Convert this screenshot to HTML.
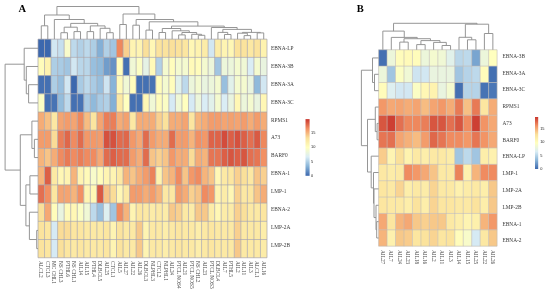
<!DOCTYPE html>
<html><head><meta charset="utf-8"><style>html,body{margin:0;padding:0;background:#fff;width:550px;height:294px;overflow:hidden}svg{display:block}</style></head>
<body><svg width="550" height="294" viewBox="0 0 550 294"><defs><linearGradient id="g" x1="0" y1="0" x2="0" y2="1"><stop offset="0.000" stop-color="#c9362e"/><stop offset="0.167" stop-color="#f29063"/><stop offset="0.333" stop-color="#fae09a"/><stop offset="0.500" stop-color="#ffffbf"/><stop offset="0.667" stop-color="#daedf5"/><stop offset="0.833" stop-color="#88b4d8"/><stop offset="1.000" stop-color="#3c68ae"/></linearGradient></defs><rect width="550" height="294" fill="#fff"/><rect x="38.00" y="39.15" width="6.54" height="18.22" fill="#3c68ae"/><rect x="44.54" y="39.15" width="6.54" height="18.22" fill="#3c68ae"/><rect x="51.09" y="39.15" width="6.54" height="18.22" fill="#d2e7f2"/><rect x="57.63" y="39.15" width="6.54" height="18.22" fill="#c6dfee"/><rect x="64.17" y="39.15" width="6.54" height="18.22" fill="#f8fbca"/><rect x="70.71" y="39.15" width="6.54" height="18.22" fill="#bdd9eb"/><rect x="77.26" y="39.15" width="6.54" height="18.22" fill="#b1d0e6"/><rect x="83.80" y="39.15" width="6.54" height="18.22" fill="#bdd9eb"/><rect x="90.34" y="39.15" width="6.54" height="18.22" fill="#adcee5"/><rect x="96.89" y="39.15" width="6.54" height="18.22" fill="#84b0d6"/><rect x="103.43" y="39.15" width="6.54" height="18.22" fill="#b1d0e6"/><rect x="109.97" y="39.15" width="6.54" height="18.22" fill="#a1c5e1"/><rect x="116.51" y="39.15" width="6.54" height="18.22" fill="#ee885d"/><rect x="123.06" y="39.15" width="6.54" height="18.22" fill="#f9d08f"/><rect x="129.60" y="39.15" width="6.54" height="18.22" fill="#fef4b2"/><rect x="136.14" y="39.15" width="6.54" height="18.22" fill="#fef4b2"/><rect x="142.69" y="39.15" width="6.54" height="18.22" fill="#fae09a"/><rect x="149.23" y="39.15" width="6.54" height="18.22" fill="#fff7b5"/><rect x="155.77" y="39.15" width="6.54" height="18.22" fill="#fbe39d"/><rect x="162.31" y="39.15" width="6.54" height="18.22" fill="#fbe39d"/><rect x="168.86" y="39.15" width="6.54" height="18.22" fill="#fae09a"/><rect x="175.40" y="39.15" width="6.54" height="18.22" fill="#fbe29b"/><rect x="181.94" y="39.15" width="6.54" height="18.22" fill="#fce6a0"/><rect x="188.49" y="39.15" width="6.54" height="18.22" fill="#fff7b5"/><rect x="195.03" y="39.15" width="6.54" height="18.22" fill="#fef3af"/><rect x="201.57" y="39.15" width="6.54" height="18.22" fill="#fceca8"/><rect x="208.11" y="39.15" width="6.54" height="18.22" fill="#d2e7f2"/><rect x="214.66" y="39.15" width="6.54" height="18.22" fill="#fceca8"/><rect x="221.20" y="39.15" width="6.54" height="18.22" fill="#fef4b2"/><rect x="227.74" y="39.15" width="6.54" height="18.22" fill="#fff7b5"/><rect x="234.29" y="39.15" width="6.54" height="18.22" fill="#fbe29b"/><rect x="240.83" y="39.15" width="6.54" height="18.22" fill="#fbe39d"/><rect x="247.37" y="39.15" width="6.54" height="18.22" fill="#fce8a3"/><rect x="253.91" y="39.15" width="6.54" height="18.22" fill="#fbe39d"/><rect x="260.46" y="39.15" width="6.54" height="18.22" fill="#fef3af"/><rect x="38.00" y="57.37" width="6.54" height="18.22" fill="#fffcbb"/><rect x="44.54" y="57.37" width="6.54" height="18.22" fill="#fef3af"/><rect x="51.09" y="57.37" width="6.54" height="18.22" fill="#adcee5"/><rect x="57.63" y="57.37" width="6.54" height="18.22" fill="#a9cbe4"/><rect x="64.17" y="57.37" width="6.54" height="18.22" fill="#a1c5e1"/><rect x="70.71" y="57.37" width="6.54" height="18.22" fill="#d2e7f2"/><rect x="77.26" y="57.37" width="6.54" height="18.22" fill="#b9d6e9"/><rect x="83.80" y="57.37" width="6.54" height="18.22" fill="#b9d6e9"/><rect x="90.34" y="57.37" width="6.54" height="18.22" fill="#98bfde"/><rect x="96.89" y="57.37" width="6.54" height="18.22" fill="#90badb"/><rect x="103.43" y="57.37" width="6.54" height="18.22" fill="#719dcb"/><rect x="109.97" y="57.37" width="6.54" height="18.22" fill="#6692c5"/><rect x="116.51" y="57.37" width="6.54" height="18.22" fill="#fffdbd"/><rect x="123.06" y="57.37" width="6.54" height="18.22" fill="#4470b2"/><rect x="129.60" y="57.37" width="6.54" height="18.22" fill="#f0f8d5"/><rect x="136.14" y="57.37" width="6.54" height="18.22" fill="#fbfdc4"/><rect x="142.69" y="57.37" width="6.54" height="18.22" fill="#e5f2e5"/><rect x="149.23" y="57.37" width="6.54" height="18.22" fill="#fffab9"/><rect x="155.77" y="57.37" width="6.54" height="18.22" fill="#b1d0e6"/><rect x="162.31" y="57.37" width="6.54" height="18.22" fill="#f4facf"/><rect x="168.86" y="57.37" width="6.54" height="18.22" fill="#fffdbd"/><rect x="175.40" y="57.37" width="6.54" height="18.22" fill="#f4facf"/><rect x="181.94" y="57.37" width="6.54" height="18.22" fill="#f4facf"/><rect x="188.49" y="57.37" width="6.54" height="18.22" fill="#fffab9"/><rect x="195.03" y="57.37" width="6.54" height="18.22" fill="#fffcbb"/><rect x="201.57" y="57.37" width="6.54" height="18.22" fill="#f4facf"/><rect x="208.11" y="57.37" width="6.54" height="18.22" fill="#ecf6da"/><rect x="214.66" y="57.37" width="6.54" height="18.22" fill="#a1c5e1"/><rect x="221.20" y="57.37" width="6.54" height="18.22" fill="#ecf6da"/><rect x="227.74" y="57.37" width="6.54" height="18.22" fill="#ecf6da"/><rect x="234.29" y="57.37" width="6.54" height="18.22" fill="#f4facf"/><rect x="240.83" y="57.37" width="6.54" height="18.22" fill="#f0f8d5"/><rect x="247.37" y="57.37" width="6.54" height="18.22" fill="#daedf5"/><rect x="253.91" y="57.37" width="6.54" height="18.22" fill="#f4facf"/><rect x="260.46" y="57.37" width="6.54" height="18.22" fill="#e9f4df"/><rect x="38.00" y="75.58" width="6.54" height="18.22" fill="#4470b2"/><rect x="44.54" y="75.58" width="6.54" height="18.22" fill="#4470b2"/><rect x="51.09" y="75.58" width="6.54" height="18.22" fill="#adcee5"/><rect x="57.63" y="75.58" width="6.54" height="18.22" fill="#98bfde"/><rect x="64.17" y="75.58" width="6.54" height="18.22" fill="#d2e7f2"/><rect x="70.71" y="75.58" width="6.54" height="18.22" fill="#3c68ae"/><rect x="77.26" y="75.58" width="6.54" height="18.22" fill="#a9cbe4"/><rect x="83.80" y="75.58" width="6.54" height="18.22" fill="#bdd9eb"/><rect x="90.34" y="75.58" width="6.54" height="18.22" fill="#a9cbe4"/><rect x="96.89" y="75.58" width="6.54" height="18.22" fill="#98bfde"/><rect x="103.43" y="75.58" width="6.54" height="18.22" fill="#cee4f1"/><rect x="109.97" y="75.58" width="6.54" height="18.22" fill="#88b4d8"/><rect x="116.51" y="75.58" width="6.54" height="18.22" fill="#fffab9"/><rect x="123.06" y="75.58" width="6.54" height="18.22" fill="#f0f8d5"/><rect x="129.60" y="75.58" width="6.54" height="18.22" fill="#fffdbd"/><rect x="136.14" y="75.58" width="6.54" height="18.22" fill="#4470b2"/><rect x="142.69" y="75.58" width="6.54" height="18.22" fill="#4470b2"/><rect x="149.23" y="75.58" width="6.54" height="18.22" fill="#4773b4"/><rect x="155.77" y="75.58" width="6.54" height="18.22" fill="#fffcbb"/><rect x="162.31" y="75.58" width="6.54" height="18.22" fill="#f4facf"/><rect x="168.86" y="75.58" width="6.54" height="18.22" fill="#fffdbd"/><rect x="175.40" y="75.58" width="6.54" height="18.22" fill="#e1f1ea"/><rect x="181.94" y="75.58" width="6.54" height="18.22" fill="#bdd9eb"/><rect x="188.49" y="75.58" width="6.54" height="18.22" fill="#ecf6da"/><rect x="195.03" y="75.58" width="6.54" height="18.22" fill="#f4facf"/><rect x="201.57" y="75.58" width="6.54" height="18.22" fill="#e9f4df"/><rect x="208.11" y="75.58" width="6.54" height="18.22" fill="#ecf6da"/><rect x="214.66" y="75.58" width="6.54" height="18.22" fill="#f4facf"/><rect x="221.20" y="75.58" width="6.54" height="18.22" fill="#98bfde"/><rect x="227.74" y="75.58" width="6.54" height="18.22" fill="#e1f1ea"/><rect x="234.29" y="75.58" width="6.54" height="18.22" fill="#f4facf"/><rect x="240.83" y="75.58" width="6.54" height="18.22" fill="#f4facf"/><rect x="247.37" y="75.58" width="6.54" height="18.22" fill="#e9f4df"/><rect x="253.91" y="75.58" width="6.54" height="18.22" fill="#90badb"/><rect x="260.46" y="75.58" width="6.54" height="18.22" fill="#d2e7f2"/><rect x="38.00" y="93.80" width="6.54" height="18.22" fill="#fbfdc4"/><rect x="44.54" y="93.80" width="6.54" height="18.22" fill="#4470b2"/><rect x="51.09" y="93.80" width="6.54" height="18.22" fill="#4773b4"/><rect x="57.63" y="93.80" width="6.54" height="18.22" fill="#94bddc"/><rect x="64.17" y="93.80" width="6.54" height="18.22" fill="#bdd9eb"/><rect x="70.71" y="93.80" width="6.54" height="18.22" fill="#4470b2"/><rect x="77.26" y="93.80" width="6.54" height="18.22" fill="#4773b4"/><rect x="83.80" y="93.80" width="6.54" height="18.22" fill="#a9cbe4"/><rect x="90.34" y="93.80" width="6.54" height="18.22" fill="#90badb"/><rect x="96.89" y="93.80" width="6.54" height="18.22" fill="#a9cbe4"/><rect x="103.43" y="93.80" width="6.54" height="18.22" fill="#b1d0e6"/><rect x="109.97" y="93.80" width="6.54" height="18.22" fill="#84b0d6"/><rect x="116.51" y="93.80" width="6.54" height="18.22" fill="#fce9a4"/><rect x="123.06" y="93.80" width="6.54" height="18.22" fill="#ffffbf"/><rect x="129.60" y="93.80" width="6.54" height="18.22" fill="#4470b2"/><rect x="136.14" y="93.80" width="6.54" height="18.22" fill="#4470b2"/><rect x="142.69" y="93.80" width="6.54" height="18.22" fill="#fff7b5"/><rect x="149.23" y="93.80" width="6.54" height="18.22" fill="#f0f8d5"/><rect x="155.77" y="93.80" width="6.54" height="18.22" fill="#fffcbb"/><rect x="162.31" y="93.80" width="6.54" height="18.22" fill="#fbfdc4"/><rect x="168.86" y="93.80" width="6.54" height="18.22" fill="#d6eaf4"/><rect x="175.40" y="93.80" width="6.54" height="18.22" fill="#f0f8d5"/><rect x="181.94" y="93.80" width="6.54" height="18.22" fill="#ffffbf"/><rect x="188.49" y="93.80" width="6.54" height="18.22" fill="#d6eaf4"/><rect x="195.03" y="93.80" width="6.54" height="18.22" fill="#ecf6da"/><rect x="201.57" y="93.80" width="6.54" height="18.22" fill="#daedf5"/><rect x="208.11" y="93.80" width="6.54" height="18.22" fill="#e1f1ea"/><rect x="214.66" y="93.80" width="6.54" height="18.22" fill="#f4facf"/><rect x="221.20" y="93.80" width="6.54" height="18.22" fill="#daedf5"/><rect x="227.74" y="93.80" width="6.54" height="18.22" fill="#e9f4df"/><rect x="234.29" y="93.80" width="6.54" height="18.22" fill="#fff7b5"/><rect x="240.83" y="93.80" width="6.54" height="18.22" fill="#ecf6da"/><rect x="247.37" y="93.80" width="6.54" height="18.22" fill="#f4facf"/><rect x="253.91" y="93.80" width="6.54" height="18.22" fill="#e9f4df"/><rect x="260.46" y="93.80" width="6.54" height="18.22" fill="#fff7b5"/><rect x="38.00" y="112.02" width="6.54" height="18.22" fill="#f5ac76"/><rect x="44.54" y="112.02" width="6.54" height="18.22" fill="#f7c084"/><rect x="51.09" y="112.02" width="6.54" height="18.22" fill="#fce8a3"/><rect x="57.63" y="112.02" width="6.54" height="18.22" fill="#f4a471"/><rect x="64.17" y="112.02" width="6.54" height="18.22" fill="#f39c6b"/><rect x="70.71" y="112.02" width="6.54" height="18.22" fill="#f4a471"/><rect x="77.26" y="112.02" width="6.54" height="18.22" fill="#ee885d"/><rect x="83.80" y="112.02" width="6.54" height="18.22" fill="#f7bc81"/><rect x="90.34" y="112.02" width="6.54" height="18.22" fill="#fbe59f"/><rect x="96.89" y="112.02" width="6.54" height="18.22" fill="#f4a471"/><rect x="103.43" y="112.02" width="6.54" height="18.22" fill="#ea7e58"/><rect x="109.97" y="112.02" width="6.54" height="18.22" fill="#ea7e58"/><rect x="116.51" y="112.02" width="6.54" height="18.22" fill="#f5ac76"/><rect x="123.06" y="112.02" width="6.54" height="18.22" fill="#f3a16e"/><rect x="129.60" y="112.02" width="6.54" height="18.22" fill="#fce8a3"/><rect x="136.14" y="112.02" width="6.54" height="18.22" fill="#f5ac76"/><rect x="142.69" y="112.02" width="6.54" height="18.22" fill="#f5ac76"/><rect x="149.23" y="112.02" width="6.54" height="18.22" fill="#f5ac76"/><rect x="155.77" y="112.02" width="6.54" height="18.22" fill="#f9d08f"/><rect x="162.31" y="112.02" width="6.54" height="18.22" fill="#fbe29b"/><rect x="168.86" y="112.02" width="6.54" height="18.22" fill="#f5ac76"/><rect x="175.40" y="112.02" width="6.54" height="18.22" fill="#f5ac76"/><rect x="181.94" y="112.02" width="6.54" height="18.22" fill="#f4a471"/><rect x="188.49" y="112.02" width="6.54" height="18.22" fill="#fce6a0"/><rect x="195.03" y="112.02" width="6.54" height="18.22" fill="#f6b47b"/><rect x="201.57" y="112.02" width="6.54" height="18.22" fill="#f5ac76"/><rect x="208.11" y="112.02" width="6.54" height="18.22" fill="#f39c6b"/><rect x="214.66" y="112.02" width="6.54" height="18.22" fill="#f39c6b"/><rect x="221.20" y="112.02" width="6.54" height="18.22" fill="#f4a471"/><rect x="227.74" y="112.02" width="6.54" height="18.22" fill="#f3a16e"/><rect x="234.29" y="112.02" width="6.54" height="18.22" fill="#f4a471"/><rect x="240.83" y="112.02" width="6.54" height="18.22" fill="#f39c6b"/><rect x="247.37" y="112.02" width="6.54" height="18.22" fill="#f5ac76"/><rect x="253.91" y="112.02" width="6.54" height="18.22" fill="#f39c6b"/><rect x="260.46" y="112.02" width="6.54" height="18.22" fill="#f5ac76"/><rect x="38.00" y="130.23" width="6.54" height="18.22" fill="#f39c6b"/><rect x="44.54" y="130.23" width="6.54" height="18.22" fill="#f39c6b"/><rect x="51.09" y="130.23" width="6.54" height="18.22" fill="#fadc97"/><rect x="57.63" y="130.23" width="6.54" height="18.22" fill="#ea7e58"/><rect x="64.17" y="130.23" width="6.54" height="18.22" fill="#df674a"/><rect x="70.71" y="130.23" width="6.54" height="18.22" fill="#f08b60"/><rect x="77.26" y="130.23" width="6.54" height="18.22" fill="#e16c4d"/><rect x="83.80" y="130.23" width="6.54" height="18.22" fill="#f39868"/><rect x="90.34" y="130.23" width="6.54" height="18.22" fill="#f39868"/><rect x="96.89" y="130.23" width="6.54" height="18.22" fill="#f39c6b"/><rect x="103.43" y="130.23" width="6.54" height="18.22" fill="#d5513e"/><rect x="109.97" y="130.23" width="6.54" height="18.22" fill="#d5513e"/><rect x="116.51" y="130.23" width="6.54" height="18.22" fill="#e16c4d"/><rect x="123.06" y="130.23" width="6.54" height="18.22" fill="#df674a"/><rect x="129.60" y="130.23" width="6.54" height="18.22" fill="#f39868"/><rect x="136.14" y="130.23" width="6.54" height="18.22" fill="#f5a874"/><rect x="142.69" y="130.23" width="6.54" height="18.22" fill="#e16c4d"/><rect x="149.23" y="130.23" width="6.54" height="18.22" fill="#f39c6b"/><rect x="155.77" y="130.23" width="6.54" height="18.22" fill="#f5ac76"/><rect x="162.31" y="130.23" width="6.54" height="18.22" fill="#f5ac76"/><rect x="168.86" y="130.23" width="6.54" height="18.22" fill="#e16c4d"/><rect x="175.40" y="130.23" width="6.54" height="18.22" fill="#f39c6b"/><rect x="181.94" y="130.23" width="6.54" height="18.22" fill="#f39c6b"/><rect x="188.49" y="130.23" width="6.54" height="18.22" fill="#f6b47b"/><rect x="195.03" y="130.23" width="6.54" height="18.22" fill="#f29063"/><rect x="201.57" y="130.23" width="6.54" height="18.22" fill="#f39868"/><rect x="208.11" y="130.23" width="6.54" height="18.22" fill="#de6348"/><rect x="214.66" y="130.23" width="6.54" height="18.22" fill="#de6348"/><rect x="221.20" y="130.23" width="6.54" height="18.22" fill="#d34c3c"/><rect x="227.74" y="130.23" width="6.54" height="18.22" fill="#dc5f46"/><rect x="234.29" y="130.23" width="6.54" height="18.22" fill="#d5513e"/><rect x="240.83" y="130.23" width="6.54" height="18.22" fill="#dc5f46"/><rect x="247.37" y="130.23" width="6.54" height="18.22" fill="#e37051"/><rect x="253.91" y="130.23" width="6.54" height="18.22" fill="#d95a43"/><rect x="260.46" y="130.23" width="6.54" height="18.22" fill="#ee885d"/><rect x="38.00" y="148.45" width="6.54" height="18.22" fill="#f6b47b"/><rect x="44.54" y="148.45" width="6.54" height="18.22" fill="#f7c487"/><rect x="51.09" y="148.45" width="6.54" height="18.22" fill="#f5ac76"/><rect x="57.63" y="148.45" width="6.54" height="18.22" fill="#f08b60"/><rect x="64.17" y="148.45" width="6.54" height="18.22" fill="#e87a55"/><rect x="70.71" y="148.45" width="6.54" height="18.22" fill="#f08b60"/><rect x="77.26" y="148.45" width="6.54" height="18.22" fill="#ea7e58"/><rect x="83.80" y="148.45" width="6.54" height="18.22" fill="#f08b60"/><rect x="90.34" y="148.45" width="6.54" height="18.22" fill="#f08b60"/><rect x="96.89" y="148.45" width="6.54" height="18.22" fill="#f5a874"/><rect x="103.43" y="148.45" width="6.54" height="18.22" fill="#e16c4d"/><rect x="109.97" y="148.45" width="6.54" height="18.22" fill="#dc5f46"/><rect x="116.51" y="148.45" width="6.54" height="18.22" fill="#e16c4d"/><rect x="123.06" y="148.45" width="6.54" height="18.22" fill="#e16c4d"/><rect x="129.60" y="148.45" width="6.54" height="18.22" fill="#f39c6b"/><rect x="136.14" y="148.45" width="6.54" height="18.22" fill="#f5ac76"/><rect x="142.69" y="148.45" width="6.54" height="18.22" fill="#e16c4d"/><rect x="149.23" y="148.45" width="6.54" height="18.22" fill="#f7c487"/><rect x="155.77" y="148.45" width="6.54" height="18.22" fill="#f9d08f"/><rect x="162.31" y="148.45" width="6.54" height="18.22" fill="#f7c487"/><rect x="168.86" y="148.45" width="6.54" height="18.22" fill="#f39868"/><rect x="175.40" y="148.45" width="6.54" height="18.22" fill="#f5ac76"/><rect x="181.94" y="148.45" width="6.54" height="18.22" fill="#f5ac76"/><rect x="188.49" y="148.45" width="6.54" height="18.22" fill="#fadc97"/><rect x="195.03" y="148.45" width="6.54" height="18.22" fill="#f5ac76"/><rect x="201.57" y="148.45" width="6.54" height="18.22" fill="#f6b47b"/><rect x="208.11" y="148.45" width="6.54" height="18.22" fill="#e67553"/><rect x="214.66" y="148.45" width="6.54" height="18.22" fill="#e67553"/><rect x="221.20" y="148.45" width="6.54" height="18.22" fill="#dc5f46"/><rect x="227.74" y="148.45" width="6.54" height="18.22" fill="#d75640"/><rect x="234.29" y="148.45" width="6.54" height="18.22" fill="#dc5f46"/><rect x="240.83" y="148.45" width="6.54" height="18.22" fill="#d75640"/><rect x="247.37" y="148.45" width="6.54" height="18.22" fill="#e37051"/><rect x="253.91" y="148.45" width="6.54" height="18.22" fill="#e67553"/><rect x="260.46" y="148.45" width="6.54" height="18.22" fill="#f29063"/><rect x="38.00" y="166.67" width="6.54" height="18.22" fill="#f6b47b"/><rect x="44.54" y="166.67" width="6.54" height="18.22" fill="#dc5f46"/><rect x="51.09" y="166.67" width="6.54" height="18.22" fill="#fce9a4"/><rect x="57.63" y="166.67" width="6.54" height="18.22" fill="#fff7b5"/><rect x="64.17" y="166.67" width="6.54" height="18.22" fill="#fef4b2"/><rect x="70.71" y="166.67" width="6.54" height="18.22" fill="#f6b47b"/><rect x="77.26" y="166.67" width="6.54" height="18.22" fill="#fef4b2"/><rect x="83.80" y="166.67" width="6.54" height="18.22" fill="#fffab9"/><rect x="90.34" y="166.67" width="6.54" height="18.22" fill="#f8fbca"/><rect x="96.89" y="166.67" width="6.54" height="18.22" fill="#fffcbb"/><rect x="103.43" y="166.67" width="6.54" height="18.22" fill="#fef4b2"/><rect x="109.97" y="166.67" width="6.54" height="18.22" fill="#fef4b2"/><rect x="116.51" y="166.67" width="6.54" height="18.22" fill="#fce9a4"/><rect x="123.06" y="166.67" width="6.54" height="18.22" fill="#f6b47b"/><rect x="129.60" y="166.67" width="6.54" height="18.22" fill="#f7c487"/><rect x="136.14" y="166.67" width="6.54" height="18.22" fill="#f5ac76"/><rect x="142.69" y="166.67" width="6.54" height="18.22" fill="#f39c6b"/><rect x="149.23" y="166.67" width="6.54" height="18.22" fill="#eb835a"/><rect x="155.77" y="166.67" width="6.54" height="18.22" fill="#fef3af"/><rect x="162.31" y="166.67" width="6.54" height="18.22" fill="#f7c487"/><rect x="168.86" y="166.67" width="6.54" height="18.22" fill="#f6b47b"/><rect x="175.40" y="166.67" width="6.54" height="18.22" fill="#f08b60"/><rect x="181.94" y="166.67" width="6.54" height="18.22" fill="#f7c487"/><rect x="188.49" y="166.67" width="6.54" height="18.22" fill="#f39868"/><rect x="195.03" y="166.67" width="6.54" height="18.22" fill="#f08b60"/><rect x="201.57" y="166.67" width="6.54" height="18.22" fill="#f6b47b"/><rect x="208.11" y="166.67" width="6.54" height="18.22" fill="#f7c487"/><rect x="214.66" y="166.67" width="6.54" height="18.22" fill="#fff7b5"/><rect x="221.20" y="166.67" width="6.54" height="18.22" fill="#fce9a4"/><rect x="227.74" y="166.67" width="6.54" height="18.22" fill="#fce6a0"/><rect x="234.29" y="166.67" width="6.54" height="18.22" fill="#f9d08f"/><rect x="240.83" y="166.67" width="6.54" height="18.22" fill="#fae09a"/><rect x="247.37" y="166.67" width="6.54" height="18.22" fill="#fce8a3"/><rect x="253.91" y="166.67" width="6.54" height="18.22" fill="#f7c487"/><rect x="260.46" y="166.67" width="6.54" height="18.22" fill="#f9d08f"/><rect x="38.00" y="184.88" width="6.54" height="18.22" fill="#e37051"/><rect x="44.54" y="184.88" width="6.54" height="18.22" fill="#f29063"/><rect x="51.09" y="184.88" width="6.54" height="18.22" fill="#fce6a0"/><rect x="57.63" y="184.88" width="6.54" height="18.22" fill="#f4a471"/><rect x="64.17" y="184.88" width="6.54" height="18.22" fill="#f4a471"/><rect x="70.71" y="184.88" width="6.54" height="18.22" fill="#f6b47b"/><rect x="77.26" y="184.88" width="6.54" height="18.22" fill="#f29063"/><rect x="83.80" y="184.88" width="6.54" height="18.22" fill="#fef4b2"/><rect x="90.34" y="184.88" width="6.54" height="18.22" fill="#fff7b5"/><rect x="96.89" y="184.88" width="6.54" height="18.22" fill="#d95a43"/><rect x="103.43" y="184.88" width="6.54" height="18.22" fill="#f7c487"/><rect x="109.97" y="184.88" width="6.54" height="18.22" fill="#fadc97"/><rect x="116.51" y="184.88" width="6.54" height="18.22" fill="#fff7b5"/><rect x="123.06" y="184.88" width="6.54" height="18.22" fill="#fce9a4"/><rect x="129.60" y="184.88" width="6.54" height="18.22" fill="#f39c6b"/><rect x="136.14" y="184.88" width="6.54" height="18.22" fill="#f39c6b"/><rect x="142.69" y="184.88" width="6.54" height="18.22" fill="#f5ac76"/><rect x="149.23" y="184.88" width="6.54" height="18.22" fill="#f39c6b"/><rect x="155.77" y="184.88" width="6.54" height="18.22" fill="#f6b47b"/><rect x="162.31" y="184.88" width="6.54" height="18.22" fill="#fce8a3"/><rect x="168.86" y="184.88" width="6.54" height="18.22" fill="#fce8a3"/><rect x="175.40" y="184.88" width="6.54" height="18.22" fill="#f39c6b"/><rect x="181.94" y="184.88" width="6.54" height="18.22" fill="#f5ac76"/><rect x="188.49" y="184.88" width="6.54" height="18.22" fill="#f9d08f"/><rect x="195.03" y="184.88" width="6.54" height="18.22" fill="#f7c487"/><rect x="201.57" y="184.88" width="6.54" height="18.22" fill="#f08b60"/><rect x="208.11" y="184.88" width="6.54" height="18.22" fill="#f39868"/><rect x="214.66" y="184.88" width="6.54" height="18.22" fill="#fef4b2"/><rect x="221.20" y="184.88" width="6.54" height="18.22" fill="#fceca8"/><rect x="227.74" y="184.88" width="6.54" height="18.22" fill="#fff7b5"/><rect x="234.29" y="184.88" width="6.54" height="18.22" fill="#f9d08f"/><rect x="240.83" y="184.88" width="6.54" height="18.22" fill="#fce8a3"/><rect x="247.37" y="184.88" width="6.54" height="18.22" fill="#fce6a0"/><rect x="253.91" y="184.88" width="6.54" height="18.22" fill="#f7c487"/><rect x="260.46" y="184.88" width="6.54" height="18.22" fill="#f5ac76"/><rect x="38.00" y="203.10" width="6.54" height="18.22" fill="#fae09a"/><rect x="44.54" y="203.10" width="6.54" height="18.22" fill="#f5a874"/><rect x="51.09" y="203.10" width="6.54" height="18.22" fill="#fffcbb"/><rect x="57.63" y="203.10" width="6.54" height="18.22" fill="#e9f4df"/><rect x="64.17" y="203.10" width="6.54" height="18.22" fill="#fffab9"/><rect x="70.71" y="203.10" width="6.54" height="18.22" fill="#fff7b5"/><rect x="77.26" y="203.10" width="6.54" height="18.22" fill="#fbfdc4"/><rect x="83.80" y="203.10" width="6.54" height="18.22" fill="#f0f8d5"/><rect x="90.34" y="203.10" width="6.54" height="18.22" fill="#bdd9eb"/><rect x="96.89" y="203.10" width="6.54" height="18.22" fill="#98bfde"/><rect x="103.43" y="203.10" width="6.54" height="18.22" fill="#deeff0"/><rect x="109.97" y="203.10" width="6.54" height="18.22" fill="#a1c5e1"/><rect x="116.51" y="203.10" width="6.54" height="18.22" fill="#f08b60"/><rect x="123.06" y="203.10" width="6.54" height="18.22" fill="#f6b47b"/><rect x="129.60" y="203.10" width="6.54" height="18.22" fill="#fef4b2"/><rect x="136.14" y="203.10" width="6.54" height="18.22" fill="#fce6a0"/><rect x="142.69" y="203.10" width="6.54" height="18.22" fill="#fce9a4"/><rect x="149.23" y="203.10" width="6.54" height="18.22" fill="#fceca8"/><rect x="155.77" y="203.10" width="6.54" height="18.22" fill="#fce9a4"/><rect x="162.31" y="203.10" width="6.54" height="18.22" fill="#fceca8"/><rect x="168.86" y="203.10" width="6.54" height="18.22" fill="#f7c889"/><rect x="175.40" y="203.10" width="6.54" height="18.22" fill="#f9d08f"/><rect x="181.94" y="203.10" width="6.54" height="18.22" fill="#fce9a4"/><rect x="188.49" y="203.10" width="6.54" height="18.22" fill="#fceca8"/><rect x="195.03" y="203.10" width="6.54" height="18.22" fill="#f7c889"/><rect x="201.57" y="203.10" width="6.54" height="18.22" fill="#f7c889"/><rect x="208.11" y="203.10" width="6.54" height="18.22" fill="#fceca8"/><rect x="214.66" y="203.10" width="6.54" height="18.22" fill="#fff7b5"/><rect x="221.20" y="203.10" width="6.54" height="18.22" fill="#fceca8"/><rect x="227.74" y="203.10" width="6.54" height="18.22" fill="#fceca8"/><rect x="234.29" y="203.10" width="6.54" height="18.22" fill="#f9d08f"/><rect x="240.83" y="203.10" width="6.54" height="18.22" fill="#fae09a"/><rect x="247.37" y="203.10" width="6.54" height="18.22" fill="#fce9a4"/><rect x="253.91" y="203.10" width="6.54" height="18.22" fill="#fce9a4"/><rect x="260.46" y="203.10" width="6.54" height="18.22" fill="#fce6a0"/><rect x="38.00" y="221.32" width="6.54" height="18.22" fill="#fbe39d"/><rect x="44.54" y="221.32" width="6.54" height="18.22" fill="#fce6a0"/><rect x="51.09" y="221.32" width="6.54" height="18.22" fill="#d6eaf4"/><rect x="57.63" y="221.32" width="6.54" height="18.22" fill="#fadc97"/><rect x="64.17" y="221.32" width="6.54" height="18.22" fill="#fadc97"/><rect x="70.71" y="221.32" width="6.54" height="18.22" fill="#fce6a0"/><rect x="77.26" y="221.32" width="6.54" height="18.22" fill="#fce6a0"/><rect x="83.80" y="221.32" width="6.54" height="18.22" fill="#fce9a4"/><rect x="90.34" y="221.32" width="6.54" height="18.22" fill="#fce9a4"/><rect x="96.89" y="221.32" width="6.54" height="18.22" fill="#fce9a4"/><rect x="103.43" y="221.32" width="6.54" height="18.22" fill="#fce6a0"/><rect x="109.97" y="221.32" width="6.54" height="18.22" fill="#fef4b2"/><rect x="116.51" y="221.32" width="6.54" height="18.22" fill="#fbe39d"/><rect x="123.06" y="221.32" width="6.54" height="18.22" fill="#fce9a4"/><rect x="129.60" y="221.32" width="6.54" height="18.22" fill="#fce9a4"/><rect x="136.14" y="221.32" width="6.54" height="18.22" fill="#f7c889"/><rect x="142.69" y="221.32" width="6.54" height="18.22" fill="#fef4b2"/><rect x="149.23" y="221.32" width="6.54" height="18.22" fill="#fce9a4"/><rect x="155.77" y="221.32" width="6.54" height="18.22" fill="#fce9a4"/><rect x="162.31" y="221.32" width="6.54" height="18.22" fill="#fdeeaa"/><rect x="168.86" y="221.32" width="6.54" height="18.22" fill="#fce9a4"/><rect x="175.40" y="221.32" width="6.54" height="18.22" fill="#fce6a0"/><rect x="181.94" y="221.32" width="6.54" height="18.22" fill="#fce9a4"/><rect x="188.49" y="221.32" width="6.54" height="18.22" fill="#fce9a4"/><rect x="195.03" y="221.32" width="6.54" height="18.22" fill="#fdeeaa"/><rect x="201.57" y="221.32" width="6.54" height="18.22" fill="#fce9a4"/><rect x="208.11" y="221.32" width="6.54" height="18.22" fill="#fce6a0"/><rect x="214.66" y="221.32" width="6.54" height="18.22" fill="#fce9a4"/><rect x="221.20" y="221.32" width="6.54" height="18.22" fill="#fce9a4"/><rect x="227.74" y="221.32" width="6.54" height="18.22" fill="#fce9a4"/><rect x="234.29" y="221.32" width="6.54" height="18.22" fill="#f9d08f"/><rect x="240.83" y="221.32" width="6.54" height="18.22" fill="#fce9a4"/><rect x="247.37" y="221.32" width="6.54" height="18.22" fill="#fce9a4"/><rect x="253.91" y="221.32" width="6.54" height="18.22" fill="#fce9a4"/><rect x="260.46" y="221.32" width="6.54" height="18.22" fill="#fdeeaa"/><rect x="38.00" y="239.53" width="6.54" height="18.22" fill="#fbe39d"/><rect x="44.54" y="239.53" width="6.54" height="18.22" fill="#fce6a0"/><rect x="51.09" y="239.53" width="6.54" height="18.22" fill="#d6eaf4"/><rect x="57.63" y="239.53" width="6.54" height="18.22" fill="#fae09a"/><rect x="64.17" y="239.53" width="6.54" height="18.22" fill="#fce6a0"/><rect x="70.71" y="239.53" width="6.54" height="18.22" fill="#fce9a4"/><rect x="77.26" y="239.53" width="6.54" height="18.22" fill="#fce6a0"/><rect x="83.80" y="239.53" width="6.54" height="18.22" fill="#fce9a4"/><rect x="90.34" y="239.53" width="6.54" height="18.22" fill="#fce9a4"/><rect x="96.89" y="239.53" width="6.54" height="18.22" fill="#fce9a4"/><rect x="103.43" y="239.53" width="6.54" height="18.22" fill="#fce6a0"/><rect x="109.97" y="239.53" width="6.54" height="18.22" fill="#fef4b2"/><rect x="116.51" y="239.53" width="6.54" height="18.22" fill="#fbe39d"/><rect x="123.06" y="239.53" width="6.54" height="18.22" fill="#fce9a4"/><rect x="129.60" y="239.53" width="6.54" height="18.22" fill="#fce9a4"/><rect x="136.14" y="239.53" width="6.54" height="18.22" fill="#f7c889"/><rect x="142.69" y="239.53" width="6.54" height="18.22" fill="#fef4b2"/><rect x="149.23" y="239.53" width="6.54" height="18.22" fill="#fce9a4"/><rect x="155.77" y="239.53" width="6.54" height="18.22" fill="#fce9a4"/><rect x="162.31" y="239.53" width="6.54" height="18.22" fill="#fdeeaa"/><rect x="168.86" y="239.53" width="6.54" height="18.22" fill="#fce9a4"/><rect x="175.40" y="239.53" width="6.54" height="18.22" fill="#fce6a0"/><rect x="181.94" y="239.53" width="6.54" height="18.22" fill="#fce9a4"/><rect x="188.49" y="239.53" width="6.54" height="18.22" fill="#fce9a4"/><rect x="195.03" y="239.53" width="6.54" height="18.22" fill="#fdeeaa"/><rect x="201.57" y="239.53" width="6.54" height="18.22" fill="#fce9a4"/><rect x="208.11" y="239.53" width="6.54" height="18.22" fill="#fce6a0"/><rect x="214.66" y="239.53" width="6.54" height="18.22" fill="#fce9a4"/><rect x="221.20" y="239.53" width="6.54" height="18.22" fill="#fce9a4"/><rect x="227.74" y="239.53" width="6.54" height="18.22" fill="#fce9a4"/><rect x="234.29" y="239.53" width="6.54" height="18.22" fill="#f7c889"/><rect x="240.83" y="239.53" width="6.54" height="18.22" fill="#fce9a4"/><rect x="247.37" y="239.53" width="6.54" height="18.22" fill="#fce9a4"/><rect x="253.91" y="239.53" width="6.54" height="18.22" fill="#fce9a4"/><rect x="260.46" y="239.53" width="6.54" height="18.22" fill="#fceca8"/><path d="M38.00 39.15H267.00M38.00 57.37H267.00M38.00 75.58H267.00M38.00 93.80H267.00M38.00 112.02H267.00M38.00 130.23H267.00M38.00 148.45H267.00M38.00 166.67H267.00M38.00 184.88H267.00M38.00 203.10H267.00M38.00 221.32H267.00M38.00 239.53H267.00M38.00 257.75H267.00M38.00 39.15V257.75M44.54 39.15V257.75M51.09 39.15V257.75M57.63 39.15V257.75M64.17 39.15V257.75M70.71 39.15V257.75M77.26 39.15V257.75M83.80 39.15V257.75M90.34 39.15V257.75M96.89 39.15V257.75M103.43 39.15V257.75M109.97 39.15V257.75M116.51 39.15V257.75M123.06 39.15V257.75M129.60 39.15V257.75M136.14 39.15V257.75M142.69 39.15V257.75M149.23 39.15V257.75M155.77 39.15V257.75M162.31 39.15V257.75M168.86 39.15V257.75M175.40 39.15V257.75M181.94 39.15V257.75M188.49 39.15V257.75M195.03 39.15V257.75M201.57 39.15V257.75M208.11 39.15V257.75M214.66 39.15V257.75M221.20 39.15V257.75M227.74 39.15V257.75M234.29 39.15V257.75M240.83 39.15V257.75M247.37 39.15V257.75M253.91 39.15V257.75M260.46 39.15V257.75M267.00 39.15V257.75" stroke="#a6a4aa" stroke-width="0.7" fill="none"/><rect x="378.60" y="49.75" width="8.46" height="16.37" fill="#4470b2"/><rect x="387.06" y="49.75" width="8.46" height="16.37" fill="#ecf6da"/><rect x="395.53" y="49.75" width="8.46" height="16.37" fill="#fffcbb"/><rect x="403.99" y="49.75" width="8.46" height="16.37" fill="#fffab9"/><rect x="412.46" y="49.75" width="8.46" height="16.37" fill="#fffcbb"/><rect x="420.92" y="49.75" width="8.46" height="16.37" fill="#ecf6da"/><rect x="429.39" y="49.75" width="8.46" height="16.37" fill="#f4facf"/><rect x="437.85" y="49.75" width="8.46" height="16.37" fill="#f0f8d5"/><rect x="446.31" y="49.75" width="8.46" height="16.37" fill="#e1f1ea"/><rect x="454.78" y="49.75" width="8.46" height="16.37" fill="#b9d6e9"/><rect x="463.24" y="49.75" width="8.46" height="16.37" fill="#bdd9eb"/><rect x="471.71" y="49.75" width="8.46" height="16.37" fill="#79a5d0"/><rect x="480.17" y="49.75" width="8.46" height="16.37" fill="#ecf6da"/><rect x="488.64" y="49.75" width="8.46" height="16.37" fill="#ffffbf"/><rect x="378.60" y="66.12" width="8.46" height="16.37" fill="#ecf6da"/><rect x="387.06" y="66.12" width="8.46" height="16.37" fill="#a1c5e1"/><rect x="395.53" y="66.12" width="8.46" height="16.37" fill="#fbfdc4"/><rect x="403.99" y="66.12" width="8.46" height="16.37" fill="#f0f8d5"/><rect x="412.46" y="66.12" width="8.46" height="16.37" fill="#cee4f1"/><rect x="420.92" y="66.12" width="8.46" height="16.37" fill="#d2e7f2"/><rect x="429.39" y="66.12" width="8.46" height="16.37" fill="#e9f4df"/><rect x="437.85" y="66.12" width="8.46" height="16.37" fill="#e9f4df"/><rect x="446.31" y="66.12" width="8.46" height="16.37" fill="#e9f4df"/><rect x="454.78" y="66.12" width="8.46" height="16.37" fill="#a1c5e1"/><rect x="463.24" y="66.12" width="8.46" height="16.37" fill="#b5d3e8"/><rect x="471.71" y="66.12" width="8.46" height="16.37" fill="#bdd9eb"/><rect x="480.17" y="66.12" width="8.46" height="16.37" fill="#fffcbb"/><rect x="488.64" y="66.12" width="8.46" height="16.37" fill="#4470b2"/><rect x="378.60" y="82.49" width="8.46" height="16.37" fill="#fffcbb"/><rect x="387.06" y="82.49" width="8.46" height="16.37" fill="#deeff0"/><rect x="395.53" y="82.49" width="8.46" height="16.37" fill="#d2e7f2"/><rect x="403.99" y="82.49" width="8.46" height="16.37" fill="#d2e7f2"/><rect x="412.46" y="82.49" width="8.46" height="16.37" fill="#fbfdc4"/><rect x="420.92" y="82.49" width="8.46" height="16.37" fill="#fff7b5"/><rect x="429.39" y="82.49" width="8.46" height="16.37" fill="#fef3af"/><rect x="437.85" y="82.49" width="8.46" height="16.37" fill="#e9f4df"/><rect x="446.31" y="82.49" width="8.46" height="16.37" fill="#f4facf"/><rect x="454.78" y="82.49" width="8.46" height="16.37" fill="#4470b2"/><rect x="463.24" y="82.49" width="8.46" height="16.37" fill="#b5d3e8"/><rect x="471.71" y="82.49" width="8.46" height="16.37" fill="#b5d3e8"/><rect x="480.17" y="82.49" width="8.46" height="16.37" fill="#4773b4"/><rect x="488.64" y="82.49" width="8.46" height="16.37" fill="#4b77b6"/><rect x="378.60" y="98.86" width="8.46" height="16.37" fill="#f39868"/><rect x="387.06" y="98.86" width="8.46" height="16.37" fill="#f5a874"/><rect x="395.53" y="98.86" width="8.46" height="16.37" fill="#f4a471"/><rect x="403.99" y="98.86" width="8.46" height="16.37" fill="#f5ac76"/><rect x="412.46" y="98.86" width="8.46" height="16.37" fill="#f4a471"/><rect x="420.92" y="98.86" width="8.46" height="16.37" fill="#f7bc81"/><rect x="429.39" y="98.86" width="8.46" height="16.37" fill="#f4a471"/><rect x="437.85" y="98.86" width="8.46" height="16.37" fill="#f39868"/><rect x="446.31" y="98.86" width="8.46" height="16.37" fill="#f5ac76"/><rect x="454.78" y="98.86" width="8.46" height="16.37" fill="#e87a55"/><rect x="463.24" y="98.86" width="8.46" height="16.37" fill="#f7c084"/><rect x="471.71" y="98.86" width="8.46" height="16.37" fill="#e87a55"/><rect x="480.17" y="98.86" width="8.46" height="16.37" fill="#fce6a0"/><rect x="488.64" y="98.86" width="8.46" height="16.37" fill="#f5ac76"/><rect x="378.60" y="115.23" width="8.46" height="16.37" fill="#d75640"/><rect x="387.06" y="115.23" width="8.46" height="16.37" fill="#cd3f33"/><rect x="395.53" y="115.23" width="8.46" height="16.37" fill="#e37051"/><rect x="403.99" y="115.23" width="8.46" height="16.37" fill="#ee885d"/><rect x="412.46" y="115.23" width="8.46" height="16.37" fill="#ee885d"/><rect x="420.92" y="115.23" width="8.46" height="16.37" fill="#ea7e58"/><rect x="429.39" y="115.23" width="8.46" height="16.37" fill="#d75640"/><rect x="437.85" y="115.23" width="8.46" height="16.37" fill="#d75640"/><rect x="446.31" y="115.23" width="8.46" height="16.37" fill="#e37051"/><rect x="454.78" y="115.23" width="8.46" height="16.37" fill="#d75640"/><rect x="463.24" y="115.23" width="8.46" height="16.37" fill="#f08b60"/><rect x="471.71" y="115.23" width="8.46" height="16.37" fill="#cd3f33"/><rect x="480.17" y="115.23" width="8.46" height="16.37" fill="#f29465"/><rect x="488.64" y="115.23" width="8.46" height="16.37" fill="#f5a874"/><rect x="378.60" y="131.60" width="8.46" height="16.37" fill="#e67553"/><rect x="387.06" y="131.60" width="8.46" height="16.37" fill="#e37051"/><rect x="395.53" y="131.60" width="8.46" height="16.37" fill="#f4a471"/><rect x="403.99" y="131.60" width="8.46" height="16.37" fill="#f5b079"/><rect x="412.46" y="131.60" width="8.46" height="16.37" fill="#f7bc81"/><rect x="420.92" y="131.60" width="8.46" height="16.37" fill="#f39c6b"/><rect x="429.39" y="131.60" width="8.46" height="16.37" fill="#df674a"/><rect x="437.85" y="131.60" width="8.46" height="16.37" fill="#e67553"/><rect x="446.31" y="131.60" width="8.46" height="16.37" fill="#f08b60"/><rect x="454.78" y="131.60" width="8.46" height="16.37" fill="#f08b60"/><rect x="463.24" y="131.60" width="8.46" height="16.37" fill="#f39868"/><rect x="471.71" y="131.60" width="8.46" height="16.37" fill="#e67553"/><rect x="480.17" y="131.60" width="8.46" height="16.37" fill="#f29465"/><rect x="488.64" y="131.60" width="8.46" height="16.37" fill="#f5a874"/><rect x="378.60" y="147.97" width="8.46" height="16.37" fill="#f9cc8c"/><rect x="387.06" y="147.97" width="8.46" height="16.37" fill="#fef4b2"/><rect x="395.53" y="147.97" width="8.46" height="16.37" fill="#fae09a"/><rect x="403.99" y="147.97" width="8.46" height="16.37" fill="#fef3af"/><rect x="412.46" y="147.97" width="8.46" height="16.37" fill="#fce9a4"/><rect x="420.92" y="147.97" width="8.46" height="16.37" fill="#fdeeaa"/><rect x="429.39" y="147.97" width="8.46" height="16.37" fill="#fce9a4"/><rect x="437.85" y="147.97" width="8.46" height="16.37" fill="#fce9a4"/><rect x="446.31" y="147.97" width="8.46" height="16.37" fill="#fceca8"/><rect x="454.78" y="147.97" width="8.46" height="16.37" fill="#a1c5e1"/><rect x="463.24" y="147.97" width="8.46" height="16.37" fill="#bdd9eb"/><rect x="471.71" y="147.97" width="8.46" height="16.37" fill="#a1c5e1"/><rect x="480.17" y="147.97" width="8.46" height="16.37" fill="#fdeeaa"/><rect x="488.64" y="147.97" width="8.46" height="16.37" fill="#fef1ae"/><rect x="378.60" y="164.35" width="8.46" height="16.37" fill="#fce8a3"/><rect x="387.06" y="164.35" width="8.46" height="16.37" fill="#fceca8"/><rect x="395.53" y="164.35" width="8.46" height="16.37" fill="#fce9a4"/><rect x="403.99" y="164.35" width="8.46" height="16.37" fill="#f08b60"/><rect x="412.46" y="164.35" width="8.46" height="16.37" fill="#f39868"/><rect x="420.92" y="164.35" width="8.46" height="16.37" fill="#f5a874"/><rect x="429.39" y="164.35" width="8.46" height="16.37" fill="#f7c487"/><rect x="437.85" y="164.35" width="8.46" height="16.37" fill="#fce9a4"/><rect x="446.31" y="164.35" width="8.46" height="16.37" fill="#fce9a4"/><rect x="454.78" y="164.35" width="8.46" height="16.37" fill="#eb835a"/><rect x="463.24" y="164.35" width="8.46" height="16.37" fill="#fef1ae"/><rect x="471.71" y="164.35" width="8.46" height="16.37" fill="#f6b47b"/><rect x="480.17" y="164.35" width="8.46" height="16.37" fill="#f08b60"/><rect x="488.64" y="164.35" width="8.46" height="16.37" fill="#f08b60"/><rect x="378.60" y="180.72" width="8.46" height="16.37" fill="#fce6a0"/><rect x="387.06" y="180.72" width="8.46" height="16.37" fill="#fce9a4"/><rect x="395.53" y="180.72" width="8.46" height="16.37" fill="#f9d492"/><rect x="403.99" y="180.72" width="8.46" height="16.37" fill="#fdeeaa"/><rect x="412.46" y="180.72" width="8.46" height="16.37" fill="#fce9a4"/><rect x="420.92" y="180.72" width="8.46" height="16.37" fill="#fceca8"/><rect x="429.39" y="180.72" width="8.46" height="16.37" fill="#f9d492"/><rect x="437.85" y="180.72" width="8.46" height="16.37" fill="#fce9a4"/><rect x="446.31" y="180.72" width="8.46" height="16.37" fill="#fce9a4"/><rect x="454.78" y="180.72" width="8.46" height="16.37" fill="#fef1ae"/><rect x="463.24" y="180.72" width="8.46" height="16.37" fill="#fceca8"/><rect x="471.71" y="180.72" width="8.46" height="16.37" fill="#fce9a4"/><rect x="480.17" y="180.72" width="8.46" height="16.37" fill="#fdeeaa"/><rect x="488.64" y="180.72" width="8.46" height="16.37" fill="#f7c889"/><rect x="378.60" y="197.09" width="8.46" height="16.37" fill="#fce6a0"/><rect x="387.06" y="197.09" width="8.46" height="16.37" fill="#fce9a4"/><rect x="395.53" y="197.09" width="8.46" height="16.37" fill="#fce9a4"/><rect x="403.99" y="197.09" width="8.46" height="16.37" fill="#fdeeaa"/><rect x="412.46" y="197.09" width="8.46" height="16.37" fill="#fbe39d"/><rect x="420.92" y="197.09" width="8.46" height="16.37" fill="#fdeeaa"/><rect x="429.39" y="197.09" width="8.46" height="16.37" fill="#f9d492"/><rect x="437.85" y="197.09" width="8.46" height="16.37" fill="#fce6a0"/><rect x="446.31" y="197.09" width="8.46" height="16.37" fill="#fce6a0"/><rect x="454.78" y="197.09" width="8.46" height="16.37" fill="#fce9a4"/><rect x="463.24" y="197.09" width="8.46" height="16.37" fill="#fce9a4"/><rect x="471.71" y="197.09" width="8.46" height="16.37" fill="#fbe39d"/><rect x="480.17" y="197.09" width="8.46" height="16.37" fill="#fdeeaa"/><rect x="488.64" y="197.09" width="8.46" height="16.37" fill="#f7c889"/><rect x="378.60" y="213.46" width="8.46" height="16.37" fill="#f5a874"/><rect x="387.06" y="213.46" width="8.46" height="16.37" fill="#fce6a0"/><rect x="395.53" y="213.46" width="8.46" height="16.37" fill="#f6b47b"/><rect x="403.99" y="213.46" width="8.46" height="16.37" fill="#f5a874"/><rect x="412.46" y="213.46" width="8.46" height="16.37" fill="#f7c889"/><rect x="420.92" y="213.46" width="8.46" height="16.37" fill="#f9d08f"/><rect x="429.39" y="213.46" width="8.46" height="16.37" fill="#f7c889"/><rect x="437.85" y="213.46" width="8.46" height="16.37" fill="#f7c889"/><rect x="446.31" y="213.46" width="8.46" height="16.37" fill="#fce9a4"/><rect x="454.78" y="213.46" width="8.46" height="16.37" fill="#fdeeaa"/><rect x="463.24" y="213.46" width="8.46" height="16.37" fill="#fef4b2"/><rect x="471.71" y="213.46" width="8.46" height="16.37" fill="#fdf0ac"/><rect x="480.17" y="213.46" width="8.46" height="16.37" fill="#f6b47b"/><rect x="488.64" y="213.46" width="8.46" height="16.37" fill="#f39868"/><rect x="378.60" y="229.83" width="8.46" height="16.37" fill="#f6b47b"/><rect x="387.06" y="229.83" width="8.46" height="16.37" fill="#fef1ae"/><rect x="395.53" y="229.83" width="8.46" height="16.37" fill="#f7c889"/><rect x="403.99" y="229.83" width="8.46" height="16.37" fill="#f9cc8c"/><rect x="412.46" y="229.83" width="8.46" height="16.37" fill="#fce6a0"/><rect x="420.92" y="229.83" width="8.46" height="16.37" fill="#fbe39d"/><rect x="429.39" y="229.83" width="8.46" height="16.37" fill="#f9d492"/><rect x="437.85" y="229.83" width="8.46" height="16.37" fill="#fce6a0"/><rect x="446.31" y="229.83" width="8.46" height="16.37" fill="#fbe39d"/><rect x="454.78" y="229.83" width="8.46" height="16.37" fill="#fffcbb"/><rect x="463.24" y="229.83" width="8.46" height="16.37" fill="#f8fbca"/><rect x="471.71" y="229.83" width="8.46" height="16.37" fill="#d6eaf4"/><rect x="480.17" y="229.83" width="8.46" height="16.37" fill="#fce8a3"/><rect x="488.64" y="229.83" width="8.46" height="16.37" fill="#f7c889"/><path d="M378.60 49.75H497.10M378.60 66.12H497.10M378.60 82.49H497.10M378.60 98.86H497.10M378.60 115.23H497.10M378.60 131.60H497.10M378.60 147.97H497.10M378.60 164.35H497.10M378.60 180.72H497.10M378.60 197.09H497.10M378.60 213.46H497.10M378.60 229.83H497.10M378.60 246.20H497.10M378.60 49.75V246.20M387.06 49.75V246.20M395.53 49.75V246.20M403.99 49.75V246.20M412.46 49.75V246.20M420.92 49.75V246.20M429.39 49.75V246.20M437.85 49.75V246.20M446.31 49.75V246.20M454.78 49.75V246.20M463.24 49.75V246.20M471.71 49.75V246.20M480.17 49.75V246.20M488.64 49.75V246.20M497.10 49.75V246.20" stroke="#bdb8b4" stroke-width="0.6" fill="none"/><path d="M41.27 39.15V25.80H47.81V39.15M60.90 39.15V32.70H67.44V39.15M73.99 39.15V31.60H80.53V39.15M64.17 32.70V27.20H77.26V31.60M87.07 39.15V31.60H93.61V39.15M106.70 39.15V32.70H113.24V39.15M100.16 39.15V28.30H109.97V32.70M90.34 31.60V25.90H105.06V28.30M70.71 27.20V23.40H97.70V25.90M54.36 39.15V19.50H84.21V23.40M44.54 25.80V15.00H69.28V19.50M119.79 39.15V24.50H126.33V39.15M132.87 39.15V25.20H139.41V39.15M145.96 39.15V30.10H152.50V39.15M159.04 39.15V32.50H165.59V39.15M178.67 39.15V34.90H185.21V39.15M198.30 39.15V35.30H204.84V39.15M191.76 39.15V34.30H201.57V35.30M181.94 34.90V32.50H196.66V34.30M172.13 39.15V30.80H189.30V32.50M162.31 32.50V28.50H180.72V30.80M224.47 39.15V34.50H231.01V39.15M217.93 39.15V32.40H227.74V34.50M244.10 39.15V35.60H250.64V39.15M237.56 39.15V33.20H247.37V35.60M257.19 39.15V32.90H263.73V39.15M242.46 33.20V32.40H260.46V32.90M222.84 32.40V29.40H251.46V32.40M211.39 39.15V27.50H237.15V29.40M171.52 28.50V26.10H224.27V27.50M149.23 30.10V21.80H197.89V26.10M136.14 25.20V19.50H173.56V21.80M123.06 24.50V14.00H154.85V19.50M56.91 15.00V6.50H138.95V14.00" stroke="#909090" stroke-width="0.95" fill="none"/><path d="M38.00 84.69H28.60V102.91H38.00M38.00 66.47H26.30V93.80H28.60M38.00 48.26H24.20V80.14H26.30M38.00 139.34H34.40V157.56H38.00M38.00 121.12H31.90V148.45H34.40M38.00 175.78H29.90V193.99H38.00M38.00 230.42H36.70V248.64H38.00M38.00 212.21H29.40V239.53H36.70M29.90 184.88H25.90V225.87H29.40M31.90 134.79H20.30V205.38H25.90M24.20 64.20H5.10V170.08H20.30" stroke="#909090" stroke-width="0.95" fill="none"/><path d="M399.76 49.75V42.10H408.23V49.75M416.69 49.75V44.60H425.15V49.75M442.08 49.75V45.50H450.55V49.75M433.62 49.75V42.40H446.31V45.50M420.92 44.60V40.60H439.97V42.40M403.99 42.10V38.70H430.44V40.60M391.30 49.75V37.40H417.22V38.70M382.83 49.75V31.10H404.26V37.40M467.48 49.75V39.80H475.94V49.75M459.01 49.75V37.30H471.71V39.80M484.40 49.75V33.50H492.87V49.75M465.36 37.30V24.20H488.64V33.50M393.54 31.10V23.30H477.00V24.20" stroke="#909090" stroke-width="0.95" fill="none"/><path d="M378.60 74.31H374.50V90.68H378.60M378.60 57.94H372.50V82.49H374.50M378.60 123.42H377.10V139.79H378.60M378.60 107.05H375.30V131.60H377.10M378.60 221.64H376.70V238.01H378.60M378.60 205.27H376.00V229.83H376.70M378.60 188.90H374.00V217.55H376.00M378.60 172.53H373.50V203.23H374.00M378.60 156.16H371.20V187.88H373.50M375.30 119.33H367.50V172.02H371.20M372.50 70.21H361.40V145.67H367.50" stroke="#909090" stroke-width="0.95" fill="none"/><g font-family="Liberation Serif, serif" fill="#383838" style="will-change:transform"><text x="271" y="48.10" dy="0.35em" font-size="5.35">EBNA-LP</text><text x="271" y="66.00" dy="0.35em" font-size="5.35">EBNA-3B</text><text x="271" y="83.90" dy="0.35em" font-size="5.35">EBNA-3A</text><text x="271" y="101.80" dy="0.35em" font-size="5.35">EBNA-3C</text><text x="271" y="119.70" dy="0.35em" font-size="5.35">RPMS1</text><text x="271" y="137.60" dy="0.35em" font-size="5.35">A73</text><text x="271" y="155.50" dy="0.35em" font-size="5.35">BARF0</text><text x="271" y="173.40" dy="0.35em" font-size="5.35">EBNA-1</text><text x="271" y="191.30" dy="0.35em" font-size="5.35">LMP-1</text><text x="271" y="209.20" dy="0.35em" font-size="5.35">EBNA-2</text><text x="271" y="227.10" dy="0.35em" font-size="5.35">LMP-2A</text><text x="271" y="245.00" dy="0.35em" font-size="5.35">LMP-2B</text><text x="502.5" y="56.00" dy="0.35em" font-size="5.35">EBNA-3B</text><text x="502.5" y="72.77" dy="0.35em" font-size="5.35">EBNA-3A</text><text x="502.5" y="89.54" dy="0.35em" font-size="5.35">EBNA-3C</text><text x="502.5" y="106.31" dy="0.35em" font-size="5.35">RPMS1</text><text x="502.5" y="123.08" dy="0.35em" font-size="5.35">A73</text><text x="502.5" y="139.85" dy="0.35em" font-size="5.35">BARF0</text><text x="502.5" y="156.62" dy="0.35em" font-size="5.35">EBNA-LP</text><text x="502.5" y="173.39" dy="0.35em" font-size="5.35">LMP-1</text><text x="502.5" y="190.16" dy="0.35em" font-size="5.35">LMP-2A</text><text x="502.5" y="206.93" dy="0.35em" font-size="5.35">LMP-2B</text><text x="502.5" y="223.70" dy="0.35em" font-size="5.35">EBNA-1</text><text x="502.5" y="240.47" dy="0.35em" font-size="5.35">EBNA-2</text><text transform="translate(41.27 261) rotate(90)" dy="0.35em" font-size="5.35" fill="#4a4a4a">ALCL2</text><text transform="translate(47.81 261) rotate(90)" dy="0.35em" font-size="5.35" fill="#4a4a4a">CTCL3</text><text transform="translate(54.36 261) rotate(90)" dy="0.35em" font-size="5.35" fill="#4a4a4a">MC CHL1</text><text transform="translate(60.90 261) rotate(90)" dy="0.35em" font-size="5.35" fill="#4a4a4a">NS CHL3</text><text transform="translate(67.44 261) rotate(90)" dy="0.35em" font-size="5.35" fill="#4a4a4a">PTHL6</text><text transform="translate(73.99 261) rotate(90)" dy="0.35em" font-size="5.35" fill="#4a4a4a">NS CHL1</text><text transform="translate(80.53 261) rotate(90)" dy="0.35em" font-size="5.35" fill="#4a4a4a">AIL14</text><text transform="translate(87.07 261) rotate(90)" dy="0.35em" font-size="5.35" fill="#4a4a4a">AIL15</text><text transform="translate(93.61 261) rotate(90)" dy="0.35em" font-size="5.35" fill="#4a4a4a">PTHL4</text><text transform="translate(100.16 261) rotate(90)" dy="0.35em" font-size="5.35" fill="#4a4a4a">DLBCL5</text><text transform="translate(106.70 261) rotate(90)" dy="0.35em" font-size="5.35" fill="#4a4a4a">AIL25</text><text transform="translate(113.24 261) rotate(90)" dy="0.35em" font-size="5.35" fill="#4a4a4a">CTCL1</text><text transform="translate(119.79 261) rotate(90)" dy="0.35em" font-size="5.35" fill="#4a4a4a">AIL5</text><text transform="translate(126.33 261) rotate(90)" dy="0.35em" font-size="5.35" fill="#4a4a4a">AIL27</text><text transform="translate(132.87 261) rotate(90)" dy="0.35em" font-size="5.35" fill="#4a4a4a">AIL22</text><text transform="translate(139.41 261) rotate(90)" dy="0.35em" font-size="5.35" fill="#4a4a4a">AIL26</text><text transform="translate(145.96 261) rotate(90)" dy="0.35em" font-size="5.35" fill="#4a4a4a">DLBCL3</text><text transform="translate(152.50 261) rotate(90)" dy="0.35em" font-size="5.35" fill="#4a4a4a">NLPHL3</text><text transform="translate(159.04 261) rotate(90)" dy="0.35em" font-size="5.35" fill="#4a4a4a">CTCL2</text><text transform="translate(165.59 261) rotate(90)" dy="0.35em" font-size="5.35" fill="#4a4a4a">NLPHL1</text><text transform="translate(172.13 261) rotate(90)" dy="0.35em" font-size="5.35" fill="#4a4a4a">AIL24</text><text transform="translate(178.67 261) rotate(90)" dy="0.35em" font-size="5.35" fill="#4a4a4a">PTCL NOS4</text><text transform="translate(185.21 261) rotate(90)" dy="0.35em" font-size="5.35" fill="#4a4a4a">AIL21</text><text transform="translate(191.76 261) rotate(90)" dy="0.35em" font-size="5.35" fill="#4a4a4a">PTCL NOS5</text><text transform="translate(198.30 261) rotate(90)" dy="0.35em" font-size="5.35" fill="#4a4a4a">NS CHL2</text><text transform="translate(204.84 261) rotate(90)" dy="0.35em" font-size="5.35" fill="#4a4a4a">AIL23</text><text transform="translate(211.39 261) rotate(90)" dy="0.35em" font-size="5.35" fill="#4a4a4a">PTCL NOS3</text><text transform="translate(217.93 261) rotate(90)" dy="0.35em" font-size="5.35" fill="#4a4a4a">DLBCL4</text><text transform="translate(224.47 261) rotate(90)" dy="0.35em" font-size="5.35" fill="#4a4a4a">AIL7</text><text transform="translate(231.01 261) rotate(90)" dy="0.35em" font-size="5.35" fill="#4a4a4a">PTHL5</text><text transform="translate(237.56 261) rotate(90)" dy="0.35em" font-size="5.35" fill="#4a4a4a">AIL2</text><text transform="translate(244.10 261) rotate(90)" dy="0.35em" font-size="5.35" fill="#4a4a4a">AIL11</text><text transform="translate(250.64 261) rotate(90)" dy="0.35em" font-size="5.35" fill="#4a4a4a">AIL3</text><text transform="translate(257.19 261) rotate(90)" dy="0.35em" font-size="5.35" fill="#4a4a4a">ALCL1</text><text transform="translate(263.73 261) rotate(90)" dy="0.35em" font-size="5.35" fill="#4a4a4a">AIL16</text><text transform="translate(382.83 250) rotate(90)" dy="0.35em" font-size="5.35" fill="#4a4a4a">AIL27</text><text transform="translate(391.30 250) rotate(90)" dy="0.35em" font-size="5.35" fill="#4a4a4a">AIL7</text><text transform="translate(399.76 250) rotate(90)" dy="0.35em" font-size="5.35" fill="#4a4a4a">AIL24</text><text transform="translate(408.23 250) rotate(90)" dy="0.35em" font-size="5.35" fill="#4a4a4a">AIL23</text><text transform="translate(416.69 250) rotate(90)" dy="0.35em" font-size="5.35" fill="#4a4a4a">AIL18</text><text transform="translate(425.15 250) rotate(90)" dy="0.35em" font-size="5.35" fill="#4a4a4a">AIL16</text><text transform="translate(433.62 250) rotate(90)" dy="0.35em" font-size="5.35" fill="#4a4a4a">AIL2</text><text transform="translate(442.08 250) rotate(90)" dy="0.35em" font-size="5.35" fill="#4a4a4a">AIL11</text><text transform="translate(450.55 250) rotate(90)" dy="0.35em" font-size="5.35" fill="#4a4a4a">AIL3</text><text transform="translate(459.01 250) rotate(90)" dy="0.35em" font-size="5.35" fill="#4a4a4a">AIL14</text><text transform="translate(467.48 250) rotate(90)" dy="0.35em" font-size="5.35" fill="#4a4a4a">AIL15</text><text transform="translate(475.94 250) rotate(90)" dy="0.35em" font-size="5.35" fill="#4a4a4a">AIL25</text><text transform="translate(484.40 250) rotate(90)" dy="0.35em" font-size="5.35" fill="#4a4a4a">AIL22</text><text transform="translate(492.87 250) rotate(90)" dy="0.35em" font-size="5.35" fill="#4a4a4a">AIL26</text></g><rect x="305.5" y="119.1" width="4.100000000000023" height="56.70000000000002" fill="url(#g)"/><text x="311.1" y="132.3" dy="0.35em" font-size="3.9" font-family="Liberation Sans, sans-serif" fill="#222" style="will-change:transform">15</text><text x="311.1" y="146.5" dy="0.35em" font-size="3.9" font-family="Liberation Sans, sans-serif" fill="#222" style="will-change:transform">10</text><text x="311.1" y="161.5" dy="0.35em" font-size="3.9" font-family="Liberation Sans, sans-serif" fill="#222" style="will-change:transform">5</text><text x="311.1" y="176.0" dy="0.35em" font-size="3.9" font-family="Liberation Sans, sans-serif" fill="#222" style="will-change:transform">0</text><rect x="535.0" y="117.0" width="3.2000000000000455" height="52.0" fill="url(#g)"/><text x="540.2" y="128.3" dy="0.35em" font-size="3.9" font-family="Liberation Sans, sans-serif" fill="#222" style="will-change:transform">15</text><text x="540.2" y="141.5" dy="0.35em" font-size="3.9" font-family="Liberation Sans, sans-serif" fill="#222" style="will-change:transform">10</text><text x="540.2" y="155.3" dy="0.35em" font-size="3.9" font-family="Liberation Sans, sans-serif" fill="#222" style="will-change:transform">5</text><text x="540.2" y="168.5" dy="0.35em" font-size="3.9" font-family="Liberation Sans, sans-serif" fill="#222" style="will-change:transform">0</text><text style="will-change:transform" x="18.6" y="11.6" font-family="Liberation Serif, serif" font-weight="bold" font-size="10.5" fill="#000">A</text><text style="will-change:transform" x="356.8" y="11.6" font-family="Liberation Serif, serif" font-weight="bold" font-size="10.5" fill="#000">B</text></svg></body></html>
